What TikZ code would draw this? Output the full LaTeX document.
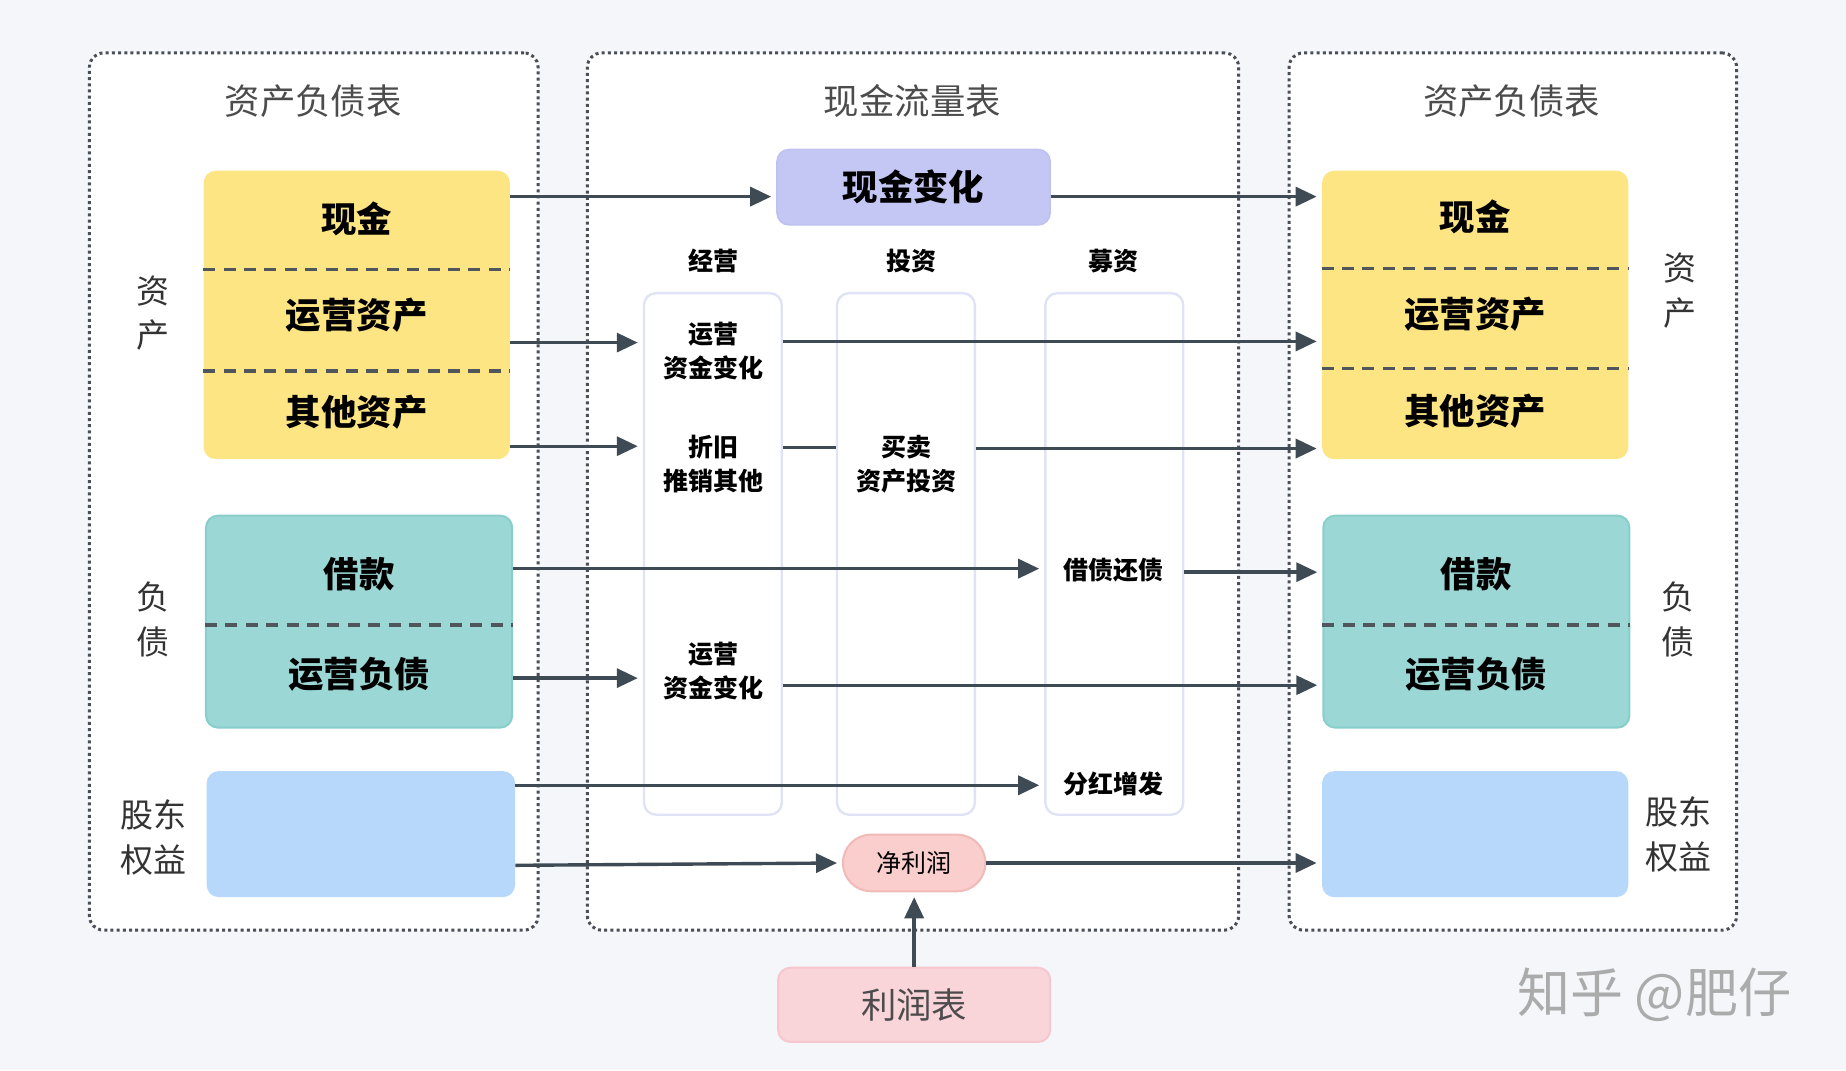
\documentclass[tikz,border=0pt]{standalone}
\usepackage{fontspec}
\setmainfont{Noto Sans CJK SC}
\usepackage{xcolor}
\usepackage{tikz}
\usetikzlibrary{arrows.meta,positioning,calc}
\definecolor{bgcol}{HTML}{F4F6FA}
\definecolor{panelline}{HTML}{4A4F57}
\definecolor{yel}{HTML}{FEE583}
\definecolor{teal}{HTML}{9AD7D5}
\definecolor{tealline}{HTML}{88CECB}
\definecolor{blu}{HTML}{B7D8FB}
\definecolor{lav}{HTML}{C4C7F3}
\definecolor{lavline}{HTML}{BEC2EF}
\definecolor{colline}{HTML}{E0E3F5}
\definecolor{pill}{HTML}{F9CECC}
\definecolor{pillline}{HTML}{F1BAB7}
\definecolor{pinkbox}{HTML}{F9D5D9}
\definecolor{pinkline}{HTML}{F6C8CD}
\definecolor{flowline}{HTML}{3E4A54}
\definecolor{sepline}{HTML}{4F565C}
\definecolor{titletext}{HTML}{4C4C4C}
\definecolor{sidetext}{HTML}{333333}
\definecolor{mark}{HTML}{ABABAB}

\begin{document}
\begin{tikzpicture}[
  x=0.5887pt, y=-0.5887pt,
  >={Triangle[length=10.5pt,width=9.5pt]},
  panel/.style={draw=panelline, fill=white, line width=1.5pt, dash pattern=on 1.5pt off 1.6pt,
                rounded corners=7pt, inner sep=0pt, minimum height=438.6pt},
  block/.style={rounded corners=6pt, inner sep=0pt, minimum width=153.1pt},
  column/.style={draw=colline, line width=1.2pt, fill=white, rounded corners=6pt,
                 inner sep=0pt, minimum width=68.9pt, minimum height=260.8pt},
  sep/.style={draw=sepline, line width=1.7pt, dash pattern=on 6pt off 4.2pt},
  big/.style={font=\fontsize{17.7}{21}\selectfont\bfseries},
  small/.style={font=\fontsize{12.5}{17}\selectfont\bfseries, align=center},
  side/.style={font=\fontsize{16.5}{22.4}\selectfont, text=sidetext, align=center},
  title/.style={font=\fontsize{17.7}{21}\selectfont, text=titletext},
  flow/.style={->, line width=1.7pt, draw=flowline, shorten >=2.5pt},
]
% background
\fill[bgcol] (0,0) rectangle (1568,909);

% three statements
\node[panel, minimum width=224.3pt] (bsL) at (266.5,417.5) {};
\node[panel, minimum width=325.6pt] (cf)  at (775.5,417.5) {};
\node[panel, minimum width=223.7pt] (bsR) at (1285,417.5) {};
\node[title] (tL) at (266,86)  {资产负债表};
\node[title] (tM) at (775,86)  {现金流量表};
\node[title] (tR) at (1284,86) {资产负债表};

% balance sheet, opening
\node[block, fill=yel, minimum height=144.2pt] (assetL) at (303,267.5) {};
\node[block, fill=teal, draw=tealline, line width=1pt, minimum height=106pt] (liabL) at (305,528) {};
\node[block, fill=blu, minimum width=154.2pt, minimum height=63pt] (eqL) at (306.5,708.5) {};
\draw[sep] (assetL.west |- 0,229) -- (assetL.east |- 0,229);
\draw[sep] (assetL.west |- 0,315) -- (assetL.east |- 0,315);
\draw[sep] (liabL.west |- 0,531) -- (liabL.east |- 0,531);
\node[big] (cashL)  at (303,186) {现金};
\node[big] (opaL)   at (303,268) {运营资产};
\node[big] (othL)   at (303,350) {其他资产};
\node[big] (loanL)  at (305,488) {借款};
\node[big] (oplL)   at (305,573) {运营负债};
\node[side] (sAL) at (130,266) {资\\产};
\node[side] (sLL) at (130,526) {负\\债};
\node[side] (sEL) at (130,711) {股东\\权益};

% balance sheet, closing
\node[block, fill=yel, minimum height=144.2pt] (assetR) at (1253,267.5) {};
\node[block, fill=teal, draw=tealline, line width=1pt, minimum height=106pt] (liabR) at (1254,528) {};
\node[block, fill=blu, minimum height=63pt] (eqR) at (1253,708.5) {};
\draw[sep] (assetR.west |- 0,228) -- (assetR.east |- 0,228);
\draw[sep] (assetR.west |- 0,313) -- (assetR.east |- 0,313);
\draw[sep] (liabR.west |- 0,531) -- (liabR.east |- 0,531);
\node[big] (cashR)  at (1253,184) {现金};
\node[big] (opaR)   at (1253,267) {运营资产};
\node[big] (othR)   at (1253,349) {其他资产};
\node[big] (loanR)  at (1254,488) {借款};
\node[big] (oplR)   at (1254,573) {运营负债};
\node[side] (sAR) at (1427,247) {资\\产};
\node[side] (sLR) at (1425,526) {负\\债};
\node[side] (sER) at (1426,709) {股东\\权益};

% cash flow statement
\node[block, fill=lav, draw=lavline, line width=0.8pt, minimum width=136.6pt, minimum height=37.7pt,
      font=\fontsize{17.7}{21}\selectfont\bfseries] (chg) at (776,159) {现金变化};
\node[small] (hOp)  at (606,222) {经营};
\node[small] (hInv) at (774,222) {投资};
\node[small] (hFin) at (946,222) {募资};
\node[column] (colop)  at (605.5,470.5) {};
\node[column] (colinv) at (769.5,470.5) {};
\node[column] (colfin) at (946.5,470.5) {};
\node[small] (wc1)  at (606,298) {运营\\资金变化};
\node[small] (dep)  at (606,394) {折旧\\推销其他};
\node[small] (capx) at (770,394) {买卖\\资产投资};
\node[small] (debt) at (946,484) {借债还债};
\node[small] (wc2)  at (606,570) {运营\\资金变化};
\node[small] (divi) at (946,666) {分红增发};
\node[draw=pillline, line width=1pt, fill=pill, rounded corners=14pt, inner sep=0pt,
      minimum width=71.2pt, minimum height=28.3pt, font=\fontsize{12.5}{15}\selectfont] (np) at (776.5,733) {净利润};

% income statement
\node[block, fill=pinkbox, draw=pinkline, line width=1pt, minimum width=136pt, minimum height=37.1pt,
      font=\fontsize{17.7}{21}\selectfont, text=titletext] (pl) at (776.5,853.5) {利润表};

% flows
\draw[flow] (assetL.east |- 0,167) -- (chg.west |- 0,167);
\draw[flow] (chg.east |- 0,167) -- (assetR.west |- 0,167);
\draw[flow] (assetL.east |- 0,291) -- (colop.west |- 0,291);
\draw[flow] (colop.east |- 0,290) -- (assetR.west |- 0,290);
\draw[flow] (assetL.east |- 0,379) -- (colop.west |- 0,379);
\draw[line width=1.7pt, flowline] (colop.east |- 0,380) -- (colinv.west |- 0,380);
\draw[flow] (colinv.east |- 0,381) -- (assetR.west |- 0,381);
\draw[flow] (liabL.east |- 0,483) -- (colfin.west |- 0,483);
\draw[flow] (colfin.east |- 0,486) -- (liabR.west |- 0,486);
\draw[flow] (liabL.east |- 0,576) -- (colop.west |- 0,576);
\draw[flow] (colop.east |- 0,582) -- (liabR.west |- 0,582);
\draw[flow] (eqL.east |- 0,667) -- (colfin.west |- 0,667);
\draw[flow] (eqL.east |- 0,735) -- (np.west);
\draw[flow] (np.east) -- (eqR.west |- np);
\draw[flow] (pl.north) -- (np.south);

% watermark
\node[font=\fontsize{26.5}{30}\selectfont, text=mark] (wm) at (1405,845) {知乎 @肥仔};
\end{tikzpicture}
\end{document}
